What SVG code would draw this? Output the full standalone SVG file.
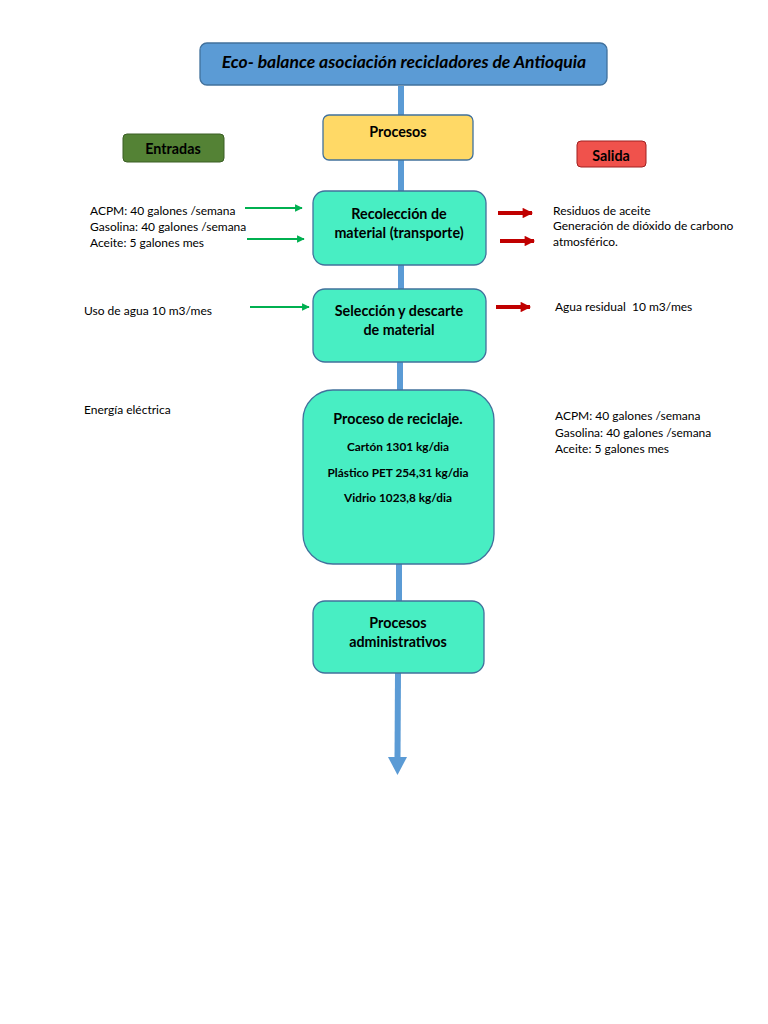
<svg xmlns="http://www.w3.org/2000/svg" width="768" height="1024" viewBox="0 0 768 1024">
<defs>
<style>
.t{font-family:Lato,"Open Sans","Noto Sans",sans-serif;fill:#000}
.b{font-weight:bold;text-anchor:middle}
.box{fill:#48EEC3;stroke:#41719C;stroke-width:1.3}
.lbl{font-size:12px}
.h{font-size:14.3px}
.s{font-size:11.8px}
.g{stroke:#00B050;stroke-width:2.2;fill:none}
.r{stroke:#C00000;stroke-width:4;fill:none}
.flow{stroke:#5B9BD5;stroke-width:6;fill:none}
</style>
<marker id="ga" viewBox="0 0 10 10" refX="9" refY="5" markerWidth="4.5" markerHeight="3.5" orient="auto" markerUnits="strokeWidth"><path d="M0,0 L10,5 L0,10 z" fill="#00B050"/></marker>
<marker id="ra" viewBox="0 0 10 10" refX="9" refY="5" markerWidth="3" markerHeight="2.6" orient="auto" markerUnits="strokeWidth"><path d="M0,0 L10,5 L0,10 z" fill="#C00000"/></marker>
</defs>
<rect width="768" height="1024" fill="#fff"/>
<g id="connectors">
<line class="flow" x1="401" y1="86" x2="401" y2="115"/>
<line class="flow" x1="401" y1="160" x2="401" y2="191"/>
<line class="flow" x1="401" y1="265" x2="401" y2="289"/>
<line class="flow" x1="400" y1="362" x2="400" y2="390"/>
<line class="flow" x1="399" y1="564" x2="399" y2="601"/>
<line class="flow" x1="398" y1="673" x2="397.5" y2="758"/>
<polygon points="388,757 407,757 397.5,775" fill="#5B9BD5"/>
<line class="g" x1="245" y1="208" x2="302" y2="208" marker-end="url(#ga)"/>
<line class="g" x1="247" y1="239" x2="304" y2="239" marker-end="url(#ga)"/>
<line class="g" x1="250" y1="307" x2="309" y2="307" marker-end="url(#ga)"/>
<line class="r" x1="498" y1="213" x2="532" y2="213" marker-end="url(#ra)"/>
<line class="r" x1="500" y1="241" x2="534" y2="241" marker-end="url(#ra)"/>
<line class="r" x1="496" y1="307" x2="530" y2="307" marker-end="url(#ra)"/>
</g>
<g id="title">
<rect x="200" y="43" width="407" height="42" rx="7" fill="#5B9BD5" stroke="#41719C" stroke-width="1.3"/>
<text class="t b" x="404" y="68" font-size="17.5" font-style="italic">Eco- balance asociación recicladores de Antioquia</text>
</g>
<g id="procesos">
<rect x="323" y="115" width="150" height="45" rx="6" fill="#FFD966" stroke="#41719C" stroke-width="1.3"/>
<text class="t b h" x="398" y="137">Procesos</text>
</g>
<g id="entradas">
<rect x="123" y="134" width="101" height="28" rx="4" fill="#548235" stroke="#3B5E25" stroke-width="1"/>
<text class="t b h" x="173" y="154">Entradas</text>
</g>
<g id="salida">
<rect x="577" y="141" width="69" height="26" rx="4" fill="#F0524C" stroke="#A02020" stroke-width="1"/>
<text class="t b h" x="611" y="161">Salida</text>
</g>
<g id="recoleccion">
<rect class="box" x="313" y="191" width="173" height="74" rx="12"/>
<text class="t b h" x="399" y="219">Recolección de</text>
<text class="t b h" x="399" y="238">material (transporte)</text>
</g>
<g id="seleccion">
<rect class="box" x="313" y="289" width="173" height="73" rx="12"/>
<text class="t b h" x="399" y="316">Selección y descarte</text>
<text class="t b h" x="399" y="335">de material</text>
</g>
<g id="reciclaje">
<rect class="box" x="303" y="390" width="191" height="174" rx="30"/>
<text class="t b h" x="398" y="424">Proceso de reciclaje.</text>
<text class="t b s" x="398" y="451">Cartón 1301 kg/dia</text>
<text class="t b s" x="398" y="477">Plástico PET 254,31 kg/dia</text>
<text class="t b s" x="398" y="502">Vidrio 1023,8 kg/dia</text>
</g>
<g id="administrativos">
<rect class="box" x="313" y="601" width="171" height="72" rx="12"/>
<text class="t b h" x="398" y="628">Procesos</text>
<text class="t b h" x="398" y="647">administrativos</text>
</g>
<g id="inputs">
<text class="t lbl" x="90" y="215">ACPM: 40 galones /semana</text>
<text class="t lbl" x="90" y="231">Gasolina: 40 galones /semana</text>
<text class="t lbl" x="90" y="247">Aceite: 5 galones mes</text>
<text class="t lbl" x="84" y="315">Uso de agua 10 m3/mes</text>
<text class="t lbl" x="84" y="414">Energía eléctrica</text>
</g>
<g id="outputs">
<text class="t lbl" x="553" y="215">Residuos de aceite</text>
<text class="t lbl" x="553" y="230">Generación de dióxido de carbono</text>
<text class="t lbl" x="553" y="246">atmosférico.</text>
<text class="t lbl" x="555" y="311" xml:space="preserve">Agua residual  10 m3/mes</text>
<text class="t lbl" x="555" y="420">ACPM: 40 galones /semana</text>
<text class="t lbl" x="555" y="437">Gasolina: 40 galones /semana</text>
<text class="t lbl" x="555" y="453">Aceite: 5 galones mes</text>
</g>
</svg>
